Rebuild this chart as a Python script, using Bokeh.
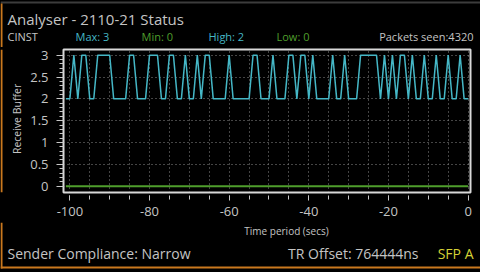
from bokeh.plotting import figure
from bokeh.models import FixedTicker, Range1d, ColumnDataSource
from bokeh.layouts import column, row
from bokeh.core.properties import value
from bokeh.embed import file_html
from bokeh.resources import INLINE
import math

# ---------------- data ----------------
times = list(range(-101, 1))
buffer_vals = [
    2, 2, 3, 2, 3, 3, 2, 2, 3, 3,   # -101 .. -92
    3, 3, 2, 2, 2, 2, 3, 3, 2, 2,   # -91 .. -82
    2, 3, 3, 3, 2, 2, 3, 3, 2, 2,   # -81 .. -72
    3, 2, 2, 3, 2, 3, 3, 2, 2, 2,   # -71 .. -62
    2, 3, 2, 2, 2, 2, 2, 3, 3, 2,   # -61 .. -52
    2, 2, 3, 2, 2, 2, 3, 3, 2, 3,   # -51 .. -42
    3, 2, 3, 2, 2, 2, 2, 3, 2, 2,   # -41 .. -32
    3, 2, 2, 2, 3, 3, 3, 3, 3, 2,   # -31 .. -22
    3, 2, 3, 2, 3, 3, 2, 3, 2, 2,   # -21 .. -12
    3, 2, 2, 3, 2, 2, 3, 2, 2, 3,   # -11 .. -2
    2, 2,                           # -1 .. 0
]
min_vals = [0] * len(times)

x_ticks = [-100, -80, -60, -40, -20, 0]
x_tick_labels = ["-100", "-80", "-60", "-40", "-20", "0"]
y_ticks = [0, 0.5, 1, 1.5, 2, 2.5, 3]
y_tick_labels = ["0", "0.5", "1", "1.5", "2", "2.5", "3"]

title_text = "Analyser - 2110-21 Status"
metric_name = "CINST"
stat_max = 3
stat_min = 0
stat_high = 2
stat_low = 0
packets_seen = 4320
compliance = "Narrow"
tr_offset_ns = 764444
sfp = "SFP A"
y_label = "Receive Buffer"
x_label = "Time period (secs)"

# ---------------- styling ----------------
FONT = "Open Sans"
TXT = "#c4c4c4"
CYAN = "#45b7c6"
GREEN = "#4f9e2c"
YELLOW = "#d6d236"
ORANGE = "#c9781e"
TOPLINE = "#3c3c3c"

W, H = 480, 272
TOP_H = 47          # header strip height
BOT_Y = 222         # where the footer strip starts
LEFT_W = 27         # width of the strip holding the y label
BLACK = {"background-color": "black"}


def strip(x0, x1, y0, y1):
    """A plain black panel whose data coordinates are page pixels."""
    f = figure(width=x1 - x0, height=y1 - y0, output_backend="svg",
               toolbar_location=None, x_axis_type=None, y_axis_type=None,
               x_range=Range1d(x0, x1), y_range=Range1d(y1, y0),
               min_border=0, outline_line_color=None, styles=BLACK)
    f.title = None
    f.background_fill_color = "black"
    f.border_fill_color = "black"
    f.xgrid.visible = False
    f.ygrid.visible = False
    return f


def txt(f, text, x, y, size, color, align="left", angle=0.0, baseline="alphabetic"):
    f.text(x=[x], y=[y], text=[text], text_font=value(FONT), text_font_size=size,
           text_color=color, text_align=align, text_baseline=baseline, angle=angle)


# ---------- header ----------
top = strip(0, W, 0, TOP_H)
top.quad(left=[0], right=[W], top=[1], bottom=[3], fill_color=TOPLINE, line_color=None)
top.quad(left=[0], right=[2], top=[3], bottom=[TOP_H], fill_color=ORANGE, line_color=None)
txt(top, title_text, 7, 18, "15px", TXT)
ROW2 = 36
txt(top, metric_name, 7, ROW2, "11px", TXT)
txt(top, f"Max: {stat_max}", 75, ROW2, "11px", CYAN)
txt(top, f"Min: {stat_min}", 141, ROW2, "11px", GREEN)
txt(top, f"High: {stat_high}", 208, ROW2, "11px", CYAN)
txt(top, f"Low: {stat_low}", 276, ROW2, "11px", GREEN)
txt(top, f"Packets seen:{packets_seen}", 473, ROW2, "11px", TXT, align="right")

# ---------- left strip (y label) ----------
left = strip(0, LEFT_W, TOP_H, BOT_Y)
left.quad(left=[0], right=[2], top=[TOP_H], bottom=[BOT_Y], fill_color=ORANGE, line_color=None)
txt(left, y_label, 16, 132, "10.5px", TXT, align="center", angle=math.pi / 2,
    baseline="middle")

# ---------- main chart ----------
FL, FT, FR, FB = 63 - LEFT_W, 49 - TOP_H, 10, BOT_Y - 192
p = figure(width=W - LEFT_W, height=BOT_Y - TOP_H, output_backend="svg",
           toolbar_location=None,
           x_range=Range1d(-101.6, 0.6), y_range=Range1d(-0.145, 3.13),
           min_border_left=FL, min_border_top=FT, min_border_right=FR,
           min_border_bottom=FB, styles=BLACK)
p.title = None
p.background_fill_color = "black"
p.border_fill_color = "black"
p.outline_line_color = "#d8d8d8"
p.outline_line_width = 2

src = ColumnDataSource(dict(t=times, buf=buffer_vals, mn=min_vals))
p.line("t", "mn", source=src, line_color=GREEN, line_width=2)
p.line("t", "buf", source=src, line_color=CYAN, line_width=1.5)

xa = p.xaxis[0]
xa.ticker = FixedTicker(ticks=x_ticks, minor_ticks=list(range(-100, 1, 5)))
xa.major_label_overrides = {t: l for t, l in zip(x_ticks, x_tick_labels)}
xa.axis_line_color = "#d8d8d8"
xa.major_tick_line_color = "#c8c8c8"
xa.minor_tick_line_color = "#c8c8c8"
xa.major_tick_in = -3
xa.major_tick_out = 8
xa.minor_tick_in = -3
xa.minor_tick_out = 7
xa.major_label_standoff = 6
xa.major_label_text_font = FONT
xa.major_label_text_font_size = "13px"
xa.major_label_text_color = TXT

ya = p.yaxis[0]
ya.ticker = FixedTicker(ticks=y_ticks, minor_ticks=[i / 10 for i in range(0, 31)])
ya.major_label_overrides = {t: l for t, l in zip(y_ticks, y_tick_labels)}
ya.axis_line_color = "#d8d8d8"
ya.major_tick_line_color = "#c8c8c8"
ya.minor_tick_line_color = "#c8c8c8"
ya.major_tick_in = 0
ya.major_tick_out = 7
ya.minor_tick_in = 0
ya.minor_tick_out = 4
ya.major_label_standoff = 8
ya.major_label_text_font = FONT
ya.major_label_text_font_size = "13px"
ya.major_label_text_color = TXT

p.xgrid.ticker = FixedTicker(ticks=list(range(-100, 1, 5)))
p.xgrid.grid_line_color = "#8a8a8a"
p.xgrid.grid_line_dash = "1 3"
p.ygrid.grid_line_color = "#8a8a8a"
p.ygrid.grid_line_dash = "1 3"

# ---------- footer ----------
bot = strip(0, W, BOT_Y, H)
bot.quad(left=[0], right=[2], top=[BOT_Y], bottom=[268], fill_color=ORANGE, line_color=None)
bot.quad(left=[0], right=[W], top=[266], bottom=[268], fill_color=ORANGE, line_color=None)
txt(bot, x_label, 286, 230, "10px", TXT, align="center", baseline="middle")
BOTROW = 253
txt(bot, f"Sender Compliance: {compliance}", 7, BOTROW, "14px", TXT)
txt(bot, f"TR Offset: {tr_offset_ns}ns", 418, BOTROW, "14px", TXT, align="right")
txt(bot, sfp, 473, BOTROW, "14px", YELLOW, align="right")

layout = column(top, row(left, p, spacing=0, styles=BLACK), bot, spacing=0,
                styles=BLACK)
html = file_html(layout, INLINE)
html = html.replace("<body>", '<body style="margin:0;background:#000000">', 1)
open("out.html", "w").write(html)
